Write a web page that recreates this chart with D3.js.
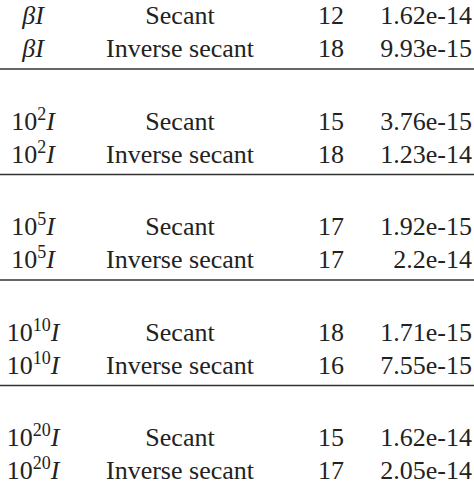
<!DOCTYPE html>
<html>
<head>
<meta charset="utf-8">
<script src="https://cdn.jsdelivr.net/npm/d3@7"></script>
<style>
  body { margin: 0; background: #fff; }
</style>
</head>
<body>
<svg id="chart" width="474" height="484"></svg>
<script>
// scaling prefixes (exponent of 10, or beta)
const groups = ["β", "2", "5", "10", "20"];
const methods = ["Secant", "Inverse secant"];
const iterations = [[12, 18], [15, 18], [17, 17], [18, 16], [15, 17]];
const residuals = [
    ["1.62e-14", "9.93e-15"],
    ["3.76e-15", "1.23e-14"],
    ["1.92e-15", "2.2e-14"],
    ["1.71e-15", "7.55e-15"],
    ["1.62e-14", "2.05e-14"]
];

const svg = d3.select("#chart")
    .attr("font-family", "'Liberation Serif', 'Times New Roman', 'DejaVu Serif', serif")
    .attr("font-size", 26)
    .attr("fill", "#222");

const groupY = d3.scaleLinear().domain([0, 4]).range([24, 446]);
const rowGap = 33;
const col = d3.scaleOrdinal().domain(["scale", "method", "iter"]).range([33, 180, 331]);
const rightEdge = 472;

groups.forEach((g, gi) => {
    methods.forEach((m, ri) => {
        const y = groupY(gi) + ri * rowGap;
        const t = svg.append("text")
            .attr("x", col("scale"))
            .attr("y", y)
            .attr("text-anchor", "middle");
        if (g === "β") {
            t.append("tspan").attr("font-style", "italic").text("βI");
        } else {
            t.append("tspan").text("10");
            t.append("tspan").attr("dy", -10).attr("font-size", 18).text(g);
            t.append("tspan").attr("dy", 10).attr("font-style", "italic").text("I");
        }
        svg.append("text")
            .attr("x", col("method")).attr("y", y)
            .attr("text-anchor", "middle").text(m);
        svg.append("text")
            .attr("x", col("iter")).attr("y", y)
            .attr("text-anchor", "middle").text(iterations[gi][ri]);
        svg.append("text")
            .attr("x", rightEdge).attr("y", y)
            .attr("text-anchor", "end").text(residuals[gi][ri]);
    });
    if (gi < groups.length - 1) {
        const ly = groupY(gi) + rowGap + 12;
        svg.append("line")
            .attr("x1", 0).attr("x2", 474)
            .attr("y1", ly).attr("y2", ly)
            .attr("stroke", "#333").attr("stroke-width", 1.5);
    }
});
</script>
</body>
</html>
